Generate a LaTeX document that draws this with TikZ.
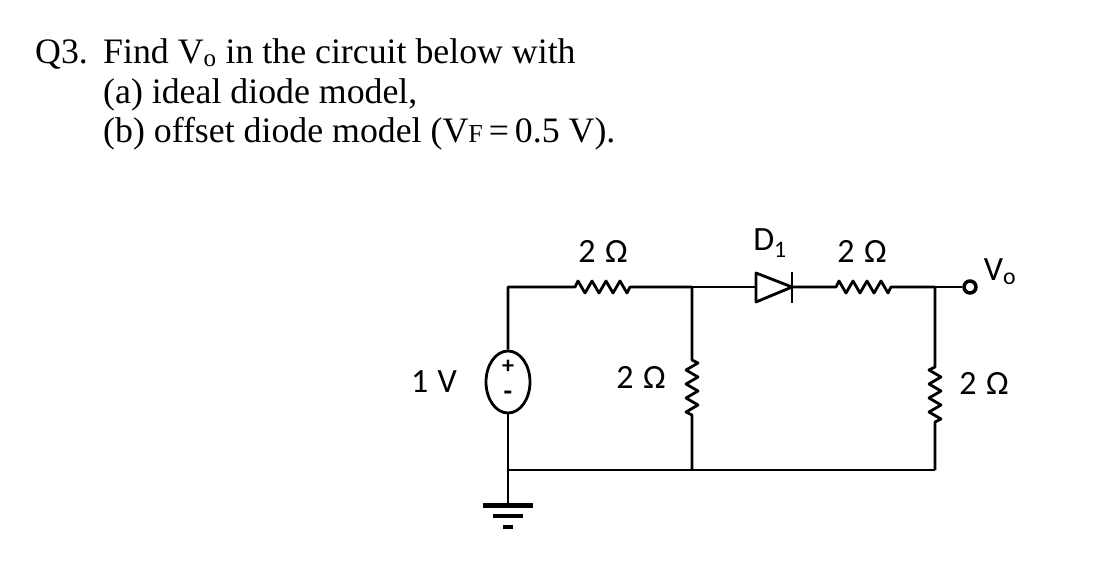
\documentclass[tikz,border=0pt]{standalone}
\usepackage{fontspec}
\usetikzlibrary{shapes.geometric}
\setmainfont{Liberation Serif}
\newfontfamily\lab{Carlito}
\begin{document}
\begin{tikzpicture}[x=1pt,y=-1pt,
  w/.style={line width=2.8pt,line join=round},
  hd/.style={font=\fontsize{35.8}{38}\selectfont,anchor=base west,inner sep=0},
  lb/.style={font=\lab\fontsize{34}{36}\selectfont,inner sep=0}]
\useasboundingbox (0,0) rectangle (1098,584);
% header
\node[hd] (q) at (35,63) {Q3.};
\node[hd] (l1) at (103,63) {Find V\textsubscript{o} in the circuit below with};
\node[hd] (l2) at (103,103) {(a) ideal diode model,};
\node[hd] (l3) at (103,142) {(b) offset diode model (V{\fontsize{26}{26}\selectfont F}\,=\,0.5 V).};
% coordinates
\coordinate (tl) at (508,287);
\coordinate (bl) at (508,470);
\coordinate (tm) at (692,287);
\coordinate (bm) at (692,470);
\coordinate (tr) at (935,287);
\coordinate (br) at (935,470);
\coordinate (g) at (508,505);
% source
\node[draw,w,ellipse,minimum width=44,minimum height=62,inner sep=0] (src) at (508,382) {};
\node[font=\lab\bfseries\fontsize{24}{24}\selectfont,inner sep=0] (pl) at (508,367) {+};
\node[font=\lab\bfseries\fontsize{28}{28}\selectfont,inner sep=0] (mi) at (508,396) {-};
\draw[w] (src.north) -- (tl) -- (575,287) -- (578,281) -- (585,293) -- (592,281) -- (599,293) -- (606,281) -- (613,293) -- (620,281) -- (627,293) -- (630,287) -- (tm);
% middle resistor
\draw[w] (tm) -- (692,360) -- (698,363) -- (686,370) -- (698,377) -- (686,384) -- (698,391) -- (686,398) -- (698,405) -- (686,412) -- (692,415) -- (bm);
% diode
\draw[w] (tm) -- (756,287);
\draw[w] (756,273) -- (756,302) -- (792,287) -- cycle;
\draw[w] (792,272) -- (792,303);
\draw[w] (792,287) -- (836,287) -- (839,281) -- (846,293) -- (853,281) -- (860,293) -- (867,281) -- (874,293) -- (881,281) -- (888,293) -- (891,287) -- (tr);
\node[draw,line width=3.5pt,circle,minimum size=12,inner sep=0] (vo) at (970,287) {};
\draw[w] (tr) -- (vo.west);
% right resistor
\draw[w] (tr) -- (935,367) -- (929,370) -- (941,377) -- (929,384) -- (941,391) -- (929,398) -- (941,405) -- (929,412) -- (941,419) -- (935,422) -- (br);
% bottom
\draw[w] (src.south) -- (bl) -- (bm) -- (br);
\draw[w] (bl) -- (g);
\draw[line width=5pt] (483,505) -- (533,505);
\draw[line width=4pt] (493,516) -- (523,516);
\draw[line width=3.5pt] (503,527) -- (513,527);
% labels
\node[lb] (r1) at (603,251) {2\;Ω};
\node[lb] (d1) at (770,243) {D\textsubscript{1}};
\node[lb] (r3) at (862,251) {2\;Ω};
\node[lb] (vl) at (1000,272) {V\textsubscript{o}};
\node[lb] (sv) at (434,382) {1\;V};
\node[lb] (r2) at (641,377) {2\;Ω};
\node[lb] (r4) at (984,383) {2\;Ω};
\end{tikzpicture}
\end{document}
